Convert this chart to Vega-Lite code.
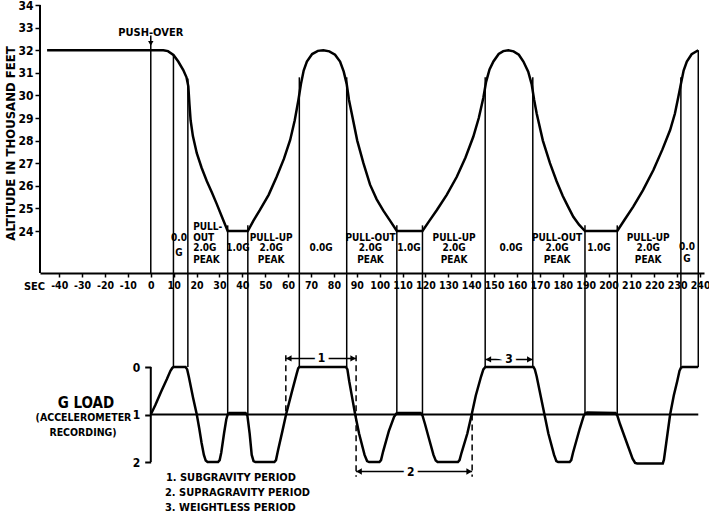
{
  "$schema": "https://vega.github.io/schema/vega-lite/v6.json",
  "width": 664,
  "height": 505,
  "autosize": {"type": "none"},
  "padding": {"left": 40, "top": 5, "right": 5, "bottom": 5},
  "background": "white",
  "config": {
    "view": {"stroke": null},
    "font": "DejaVu Sans Condensed",
    "text": {"font": "DejaVu Sans Condensed", "fontWeight": "bold", "fontSize": 10, "color": "black"},
    "axis": {"labelFont": "DejaVu Sans Condensed", "labelFontWeight": "bold", "labelColor": "black", "tickColor": "black", "domainColor": "black", "grid": false, "titleFont": "DejaVu Sans Condensed", "labelOverlap": false},
    "axisX": {"labelOverlap": false, "labelFlush": false, "tickCount": 29},
    "axisQuantitative": {"labelOverlap": false}
  },
  "datasets": {
    "altitude": [
      {"t":-45.3,"alt":32},{"t":5.5,"alt":32},{"t":7.5,"alt":31.96},{"t":9.9,"alt":31.79},{"t":12,"alt":31.5},{"t":14.2,"alt":31.12},{"t":15.6,"alt":30.8},{"t":16.4,"alt":30.4},{"t":16.9,"alt":29.6},{"t":17.4,"alt":28.9},{"t":18.4,"alt":28.2},{"t":20.1,"alt":27.44},{"t":22.2,"alt":26.8},{"t":24.5,"alt":26.2},{"t":26.7,"alt":25.7},{"t":28.8,"alt":25.2},{"t":31.2,"alt":24.6},{"t":33.6,"alt":24.0},{"t":42.4,"alt":24.0},{"t":44.8,"alt":24.45},{"t":47.7,"alt":24.93},{"t":51.5,"alt":25.6},{"t":55.0,"alt":26.4},{"t":58.2,"alt":27.2},{"t":60.9,"alt":28.03},{"t":62.9,"alt":28.9},{"t":64.5,"alt":29.8},{"t":65.6,"alt":30.5},{"t":66.8,"alt":31.1},{"t":68.2,"alt":31.5},{"t":70.5,"alt":31.83},{"t":73,"alt":31.97},{"t":75.4,"alt":32.0},{"t":78,"alt":31.95},{"t":80.5,"alt":31.8},{"t":82.7,"alt":31.5},{"t":84.3,"alt":31.05},{"t":85.6,"alt":30.5},{"t":86.6,"alt":29.8},{"t":87.8,"alt":29.2},{"t":90.2,"alt":28.0},{"t":92.9,"alt":27.0},{"t":95.8,"alt":26.05},{"t":98.7,"alt":25.4},{"t":101.6,"alt":24.9},{"t":104.6,"alt":24.45},{"t":107.5,"alt":24.0},{"t":118.7,"alt":24.0},{"t":121.7,"alt":24.45},{"t":125.0,"alt":24.93},{"t":129.3,"alt":25.6},{"t":133.7,"alt":26.4},{"t":137.5,"alt":27.25},{"t":140.9,"alt":28.17},{"t":143.3,"alt":29.0},{"t":145.3,"alt":29.9},{"t":146.5,"alt":30.6},{"t":148,"alt":31.15},{"t":149.7,"alt":31.5},{"t":152,"alt":31.83},{"t":154,"alt":31.96},{"t":156.2,"alt":32.0},{"t":158.5,"alt":31.95},{"t":160.8,"alt":31.8},{"t":162.8,"alt":31.5},{"t":164.9,"alt":31.05},{"t":166.4,"alt":30.5},{"t":167.5,"alt":29.8},{"t":168.6,"alt":29.2},{"t":171.3,"alt":28.0},{"t":174.4,"alt":27.0},{"t":177.3,"alt":26.2},{"t":180,"alt":25.55},{"t":182.2,"alt":25.1},{"t":184.6,"alt":24.63},{"t":187.1,"alt":24.28},{"t":189.7,"alt":24.0},{"t":203.8,"alt":24.0},{"t":207,"alt":24.5},{"t":210.8,"alt":25.08},{"t":215,"alt":25.8},{"t":219.6,"alt":26.7},{"t":223.5,"alt":27.6},{"t":226.9,"alt":28.47},{"t":229,"alt":29.2},{"t":230.5,"alt":29.94},{"t":231.6,"alt":30.5},{"t":232.8,"alt":31.1},{"t":234.2,"alt":31.5},{"t":236.3,"alt":31.82},{"t":239.2,"alt":32.0}
    ],
    "gload": [
      {"t":0,"g":1.0},{"t":2,"g":0.8},{"t":4.5,"g":0.52},{"t":7,"g":0.26},{"t":8.6,"g":0.08},{"t":9.4,"g":0.02},{"t":9.9,"g":0},{"t":15.2,"g":0},{"t":15.9,"g":0.05},{"t":16.6,"g":0.2},{"t":18.5,"g":0.65},{"t":20.1,"g":1.0},{"t":21.2,"g":1.3},{"t":22.2,"g":1.6},{"t":23.2,"g":1.85},{"t":24,"g":1.97},{"t":24.8,"g":2.0},{"t":29.4,"g":2.0},{"t":30.1,"g":1.96},{"t":30.8,"g":1.8},{"t":32,"g":1.4},{"t":33,"g":1.1},{"t":33.6,"g":1.0},{"t":34.3,"g":0.97},{"t":41.4,"g":0.97},{"t":42.2,"g":1.02},{"t":43.2,"g":1.4},{"t":44.1,"g":1.85},{"t":44.9,"g":1.98},{"t":45.7,"g":2.0},{"t":54.0,"g":2.0},{"t":54.7,"g":1.96},{"t":55.6,"g":1.75},{"t":57.5,"g":1.35},{"t":59.1,"g":1.0},{"t":61.5,"g":0.55},{"t":63.7,"g":0.15},{"t":64.4,"g":0.03},{"t":64.9,"g":0},{"t":85.3,"g":0},{"t":85.9,"g":0.05},{"t":86.7,"g":0.3},{"t":88,"g":0.65},{"t":89.3,"g":1.0},{"t":91,"g":1.4},{"t":93.4,"g":1.85},{"t":94.5,"g":1.98},{"t":95.4,"g":2.0},{"t":99.9,"g":2.0},{"t":100.6,"g":1.96},{"t":101.5,"g":1.78},{"t":104,"g":1.35},{"t":106.3,"g":1.05},{"t":107.3,"g":0.98},{"t":108,"g":0.97},{"t":117.9,"g":0.97},{"t":118.7,"g":1.02},{"t":119.8,"g":1.2},{"t":121.5,"g":1.5},{"t":123.5,"g":1.85},{"t":124.5,"g":1.97},{"t":125.3,"g":2.0},{"t":134.2,"g":2.0},{"t":134.9,"g":1.96},{"t":135.8,"g":1.8},{"t":138.3,"g":1.4},{"t":140.2,"g":1.0},{"t":142,"g":0.6},{"t":144.3,"g":0.2},{"t":145.3,"g":0.05},{"t":146.2,"g":0},{"t":167.2,"g":0},{"t":167.8,"g":0.05},{"t":168.6,"g":0.2},{"t":170.3,"g":0.6},{"t":172.0,"g":1.0},{"t":173.7,"g":1.4},{"t":176.2,"g":1.85},{"t":177.2,"g":1.98},{"t":178,"g":2.0},{"t":183,"g":2.0},{"t":183.7,"g":1.96},{"t":184.5,"g":1.8},{"t":187.4,"g":1.3},{"t":189.2,"g":1.02},{"t":190,"g":0.97},{"t":190.7,"g":0.96},{"t":203,"g":0.97},{"t":203.8,"g":1.02},{"t":205,"g":1.2},{"t":208,"g":1.6},{"t":210.5,"g":1.93},{"t":211.6,"g":2.02},{"t":212.5,"g":2.03},{"t":223.7,"g":2.03},{"t":224.2,"g":1.95},{"t":225.2,"g":1.6},{"t":226.9,"g":1.0},{"t":228.5,"g":0.6},{"t":230,"g":0.3},{"t":231,"g":0.08},{"t":231.6,"g":0.02},{"t":232.3,"g":0},{"t":239.2,"g":0}
    ],
    "phases": [
      {"t":9.9,"alt_top":31.79,"alt_base":22.14,"g_base":-1.98,"g_bot":0},{"t":16.2,"alt_top":30.75,"alt_base":22.14,"g_base":-1.98,"g_bot":0},{"t":33.6,"alt_top":24.25,"alt_base":22.14,"g_base":-1.98,"g_bot":1},{"t":42.4,"alt_top":24.25,"alt_base":22.14,"g_base":-1.98,"g_bot":1},{"t":64.9,"alt_top":30.8,"alt_base":22.14,"g_base":-1.98,"g_bot":0},{"t":85.6,"alt_top":30.8,"alt_base":22.14,"g_base":-1.98,"g_bot":0},{"t":107.5,"alt_top":24.25,"alt_base":22.14,"g_base":-1.98,"g_bot":1},{"t":118.7,"alt_top":24.25,"alt_base":22.14,"g_base":-1.98,"g_bot":1},{"t":146.1,"alt_top":30.8,"alt_base":22.14,"g_base":-1.98,"g_bot":0},{"t":166.9,"alt_top":30.8,"alt_base":22.14,"g_base":-1.98,"g_bot":0},{"t":189.7,"alt_top":24.25,"alt_base":22.14,"g_base":-1.98,"g_bot":1},{"t":203.8,"alt_top":24.25,"alt_base":22.14,"g_base":-1.98,"g_bot":1},{"t":231.6,"alt_top":30.8,"alt_base":22.14,"g_base":-1.98,"g_bot":0},{"t":239.2,"alt_top":32.0,"alt_base":22.14,"g_base":-1.98,"g_bot":0}
    ],
    "phase_text": [
      {"t":12.3,"alt":23.68,"label":"0.0"},{"t":12.3,"alt":23.03,"label":"G"},
      {"t":38.1,"alt":23.226,"label":"1.0G"},
      {"t":52.6,"alt":23.712,"label":"PULL-UP"},{"t":52.6,"alt":23.226,"label":"2.0G"},{"t":52.6,"alt":22.739,"label":"PEAK"},
      {"t":74.4,"alt":23.226,"label":"0.0G"},
      {"t":96.0,"alt":23.712,"label":"PULL-OUT"},{"t":96.0,"alt":23.226,"label":"2.0G"},{"t":96.0,"alt":22.739,"label":"PEAK"},
      {"t":112.8,"alt":23.226,"label":"1.0G"},
      {"t":132.5,"alt":23.712,"label":"PULL-UP"},{"t":132.5,"alt":23.226,"label":"2.0G"},{"t":132.5,"alt":22.739,"label":"PEAK"},
      {"t":157.4,"alt":23.226,"label":"0.0G"},
      {"t":177.5,"alt":23.712,"label":"PULL-OUT"},{"t":177.5,"alt":23.226,"label":"2.0G"},{"t":177.5,"alt":22.739,"label":"PEAK"},
      {"t":195.8,"alt":23.226,"label":"1.0G"},
      {"t":217.3,"alt":23.712,"label":"PULL-UP"},{"t":217.3,"alt":23.226,"label":"2.0G"},{"t":217.3,"alt":22.739,"label":"PEAK"},
      {"t":234.3,"alt":23.27,"label":"0.0"},{"t":234.3,"alt":22.78,"label":"G"}
    ],
    "pullout_first": [
      {"t":18.5,"alt":24.199,"label":"PULL-"},{"t":18.5,"alt":23.712,"label":"OUT"},{"t":18.5,"alt":23.226,"label":"2.0G"},{"t":18.5,"alt":22.739,"label":"PEAK"}
    ],
    "brackets": [
      {"period":"1","start":59.0,"end":89.7,"g":-0.18,"mid":74.6},
      {"period":"2","start":89.7,"end":140.4,"g":2.2,"mid":113.6},
      {"period":"3","start":146.2,"end":166.9,"g":-0.16,"mid":156.5}
    ],
    "dashes": [
      {"t":59.0,"g_top":-0.25,"g_bot":1.0},
      {"t":89.7,"g_top":-0.25,"g_bot":2.31},
      {"t":140.4,"g_top":1.0,"g_bot":2.31}
    ],
    "legend": [
      {"t":6.6,"g":2.34,"label":"1. SUBGRAVITY  PERIOD"},
      {"t":6.2,"g":2.66,"label":"2. SUPRAGRAVITY  PERIOD"},
      {"t":6.2,"g":2.97,"label":"3. WEIGHTLESS  PERIOD"}
    ]
  },
  "layer": [
    {
      "layer": [
        {
          "data": {"values": [{"t": -48.4, "top": 34, "bottom": 22.14}]},
          "mark": {"type": "rule", "color": "black", "strokeWidth": 2},
          "encoding": {
            "x": {"field": "t", "type": "quantitative", "scale": {"domain": [-48.4, 241.7], "nice": false, "zero": false},
              "axis": {"orient": "bottom", "offset": -237, "values": [-40,-30,-20,-10,0,10,20,30,40,50,60,70,80,90,100,110,120,130,140,150,160,170,180,190,200,210,220,230,240],
                "tickCount": 29, "labelExpr": "'' + datum.value",
                "tickSize": 4, "tickWidth": 1.5, "domainWidth": 2,
                "labelFontSize": 10.5, "labelFontWeight": "bold", "labelPadding": 3, "labelFlush": false, "labelOverlap": false, "labelSeparation": 0,
                "title": null}},
            "y": {"field": "top", "type": "quantitative", "scale": {"domain": [11.655, 34], "nice": false, "zero": false},
              "axis": {"orient": "left", "values": [24,25,26,27,28,29,30,31,32,33,34], "domain": false,
                "tickSize": 5, "tickWidth": 1.5,
                "labelFontSize": 12, "labelFontWeight": "bold", "labelPadding": 2,
                "title": "ALTITUDE   IN   THOUSAND   FEET", "titleFontSize": 13, "titleFontWeight": "bold", "titleColor": "black",
                "titleX": -30, "titleY": 138, "titleAngle": -90, "titleAlign": "center", "titleBaseline": "middle"}},
            "y2": {"field": "bottom"}
          }
        },
        {
          "data": {"name": "altitude"},
          "mark": {"type": "line", "color": "black", "strokeWidth": 2.5},
          "encoding": {
            "x": {"field": "t", "type": "quantitative"},
            "y": {"field": "alt", "type": "quantitative"}
          }
        },
        {
          "data": {"name": "phases"},
          "mark": {"type": "rule", "color": "black", "strokeWidth": 1.5},
          "encoding": {
            "x": {"field": "t", "type": "quantitative"},
            "y": {"field": "alt_top", "type": "quantitative"},
            "y2": {"field": "alt_base"}
          }
        },
        {
          "data": {"values": [{"t": 0, "alt_top": 32.65, "alt_base": 22.14}]},
          "mark": {"type": "rule", "color": "black", "strokeWidth": 1.5},
          "encoding": {
            "x": {"field": "t", "type": "quantitative"},
            "y": {"field": "alt_top", "type": "quantitative"},
            "y2": {"field": "alt_base"}
          }
        },
        {
          "data": {"values": [{"t": 0, "arrow": 32.3}]},
          "mark": {"type": "point", "shape": "triangle-down", "filled": true, "color": "black", "size": 30, "opacity": 1},
          "encoding": {
            "x": {"field": "t", "type": "quantitative"},
            "y": {"field": "arrow", "type": "quantitative"}
          }
        },
        {
          "data": {"values": [{"t": 0, "alt": 32.78, "label": "PUSH-OVER"}]},
          "mark": {"type": "text", "fontSize": 11, "baseline": "middle", "align": "center"},
          "encoding": {
            "x": {"field": "t", "type": "quantitative"},
            "y": {"field": "alt", "type": "quantitative"},
            "text": {"field": "label", "type": "nominal"}
          }
        },
        {
          "data": {"name": "phase_text"},
          "mark": {"type": "text", "baseline": "middle", "align": "center", "fontSize": 10},
          "encoding": {
            "x": {"field": "t", "type": "quantitative"},
            "y": {"field": "alt", "type": "quantitative"},
            "text": {"field": "label", "type": "nominal"}
          }
        },
        {
          "data": {"name": "pullout_first"},
          "mark": {"type": "text", "baseline": "middle", "align": "left", "fontSize": 10},
          "encoding": {
            "x": {"field": "t", "type": "quantitative"},
            "y": {"field": "alt", "type": "quantitative"},
            "text": {"field": "label", "type": "nominal"}
          }
        },
        {
          "data": {"values": [{"t": -50.8, "alt": 21.52, "label": "SEC"}]},
          "mark": {"type": "text", "baseline": "middle", "align": "center", "fontSize": 11},
          "encoding": {
            "x": {"field": "t", "type": "quantitative"},
            "y": {"field": "alt", "type": "quantitative"},
            "text": {"field": "label", "type": "nominal"}
          }
        }
      ]
    },
    {
      "layer": [
        {
          "data": {"name": "brackets"},
          "mark": {"type": "rule", "color": "black", "strokeWidth": 1.5},
          "encoding": {
            "x": {"field": "start", "type": "quantitative", "scale": {"domain": [-48.4, 241.7], "nice": false, "zero": false},
              "axis": {"orient": "bottom", "offset": -237, "values": [-40,-30,-20,-10,0,10,20,30,40,50,60,70,80,90,100,110,120,130,140,150,160,170,180,190,200,210,220,230,240],
                "tickCount": 29, "labelExpr": "'' + datum.value",
                "tickSize": 4, "tickWidth": 1.5, "domainWidth": 2,
                "labelFontSize": 10.5, "labelFontWeight": "bold", "labelPadding": 3, "labelFlush": false, "labelOverlap": false, "labelSeparation": 0,
                "title": null}},
            "x2": {"field": "end"},
            "y": {"field": "g", "type": "quantitative", "scale": {"domain": [-7.62, 3.01], "reverse": true, "nice": false, "zero": false},
              "axis": {"orient": "left", "offset": -110.7, "values": [0, 1, 2], "domain": false,
                "tickSize": 6, "tickWidth": 2,
                "labelFontSize": 12, "labelFontWeight": "bold", "labelPadding": 5,
                "title": null}}
          }
        },
        {
          "data": {"name": "brackets"},
          "mark": {"type": "point", "shape": "triangle-left", "filled": true, "color": "black", "size": 40, "opacity": 1, "xOffset": 3},
          "encoding": {
            "x": {"field": "start", "type": "quantitative"},
            "y": {"field": "g", "type": "quantitative"}
          }
        },
        {
          "data": {"name": "brackets"},
          "mark": {"type": "point", "shape": "triangle-right", "filled": true, "color": "black", "size": 40, "opacity": 1, "xOffset": -3},
          "encoding": {
            "x": {"field": "end", "type": "quantitative"},
            "y": {"field": "g", "type": "quantitative"}
          }
        },
        {
          "data": {"name": "brackets"},
          "mark": {"type": "text", "fontSize": 12, "baseline": "middle", "align": "center", "stroke": "white", "strokeWidth": 8, "fill": "white"},
          "encoding": {
            "x": {"field": "mid", "type": "quantitative"},
            "y": {"field": "g", "type": "quantitative"},
            "text": {"field": "period", "type": "nominal"}
          }
        },
        {
          "data": {"name": "brackets"},
          "mark": {"type": "text", "fontSize": 12, "baseline": "middle", "align": "center"},
          "encoding": {
            "x": {"field": "mid", "type": "quantitative"},
            "y": {"field": "g", "type": "quantitative"},
            "text": {"field": "period", "type": "nominal"}
          }
        },
        {
          "data": {"values": [{"start": 0, "end": 239.2, "g": 1}]},
          "mark": {"type": "rule", "color": "black", "strokeWidth": 2},
          "encoding": {
            "x": {"field": "start", "type": "quantitative"},
            "x2": {"field": "end"},
            "y": {"field": "g", "type": "quantitative"}
          }
        },
        {
          "data": {"values": [{"t": 0, "top": 0, "bottom": 2}]},
          "mark": {"type": "rule", "color": "black", "strokeWidth": 2},
          "encoding": {
            "x": {"field": "t", "type": "quantitative"},
            "y": {"field": "top", "type": "quantitative"},
            "y2": {"field": "bottom"}
          }
        },
        {
          "data": {"name": "gload"},
          "mark": {"type": "line", "color": "black", "strokeWidth": 2.5},
          "encoding": {
            "x": {"field": "t", "type": "quantitative"},
            "y": {"field": "g", "type": "quantitative"}
          }
        },
        {
          "data": {"name": "phases"},
          "mark": {"type": "rule", "color": "black", "strokeWidth": 1.5},
          "encoding": {
            "x": {"field": "t", "type": "quantitative"},
            "y": {"field": "g_base", "type": "quantitative"},
            "y2": {"field": "g_bot"}
          }
        },
        {
          "data": {"name": "dashes"},
          "mark": {"type": "rule", "color": "black", "strokeWidth": 1.5, "strokeDash": [6, 4]},
          "encoding": {
            "x": {"field": "t", "type": "quantitative"},
            "y": {"field": "g_top", "type": "quantitative"},
            "y2": {"field": "g_bot"}
          }
        },
        {
          "data": {"values": [{"t": -28.3, "g": 0.76, "label": "G LOAD"}]},
          "mark": {"type": "text", "fontSize": 15, "baseline": "middle", "align": "center"},
          "encoding": {
            "x": {"field": "t", "type": "quantitative"},
            "y": {"field": "g", "type": "quantitative"},
            "text": {"field": "label", "type": "nominal"}
          }
        },
        {
          "data": {"values": [{"t": -29.4, "g": 1.07, "label": "(ACCELEROMETER"}, {"t": -29.6, "g": 1.39, "label": "RECORDING)"}]},
          "mark": {"type": "text", "fontSize": 10.5, "baseline": "middle", "align": "center"},
          "encoding": {
            "x": {"field": "t", "type": "quantitative"},
            "y": {"field": "g", "type": "quantitative"},
            "text": {"field": "label", "type": "nominal"}
          }
        },
        {
          "data": {"name": "legend"},
          "mark": {"type": "text", "fontSize": 11, "baseline": "middle", "align": "left"},
          "encoding": {
            "x": {"field": "t", "type": "quantitative"},
            "y": {"field": "g", "type": "quantitative"},
            "text": {"field": "label", "type": "nominal"}
          }
        }
      ]
    }
  ],
  "resolve": {"scale": {"y": "independent"}}
}
